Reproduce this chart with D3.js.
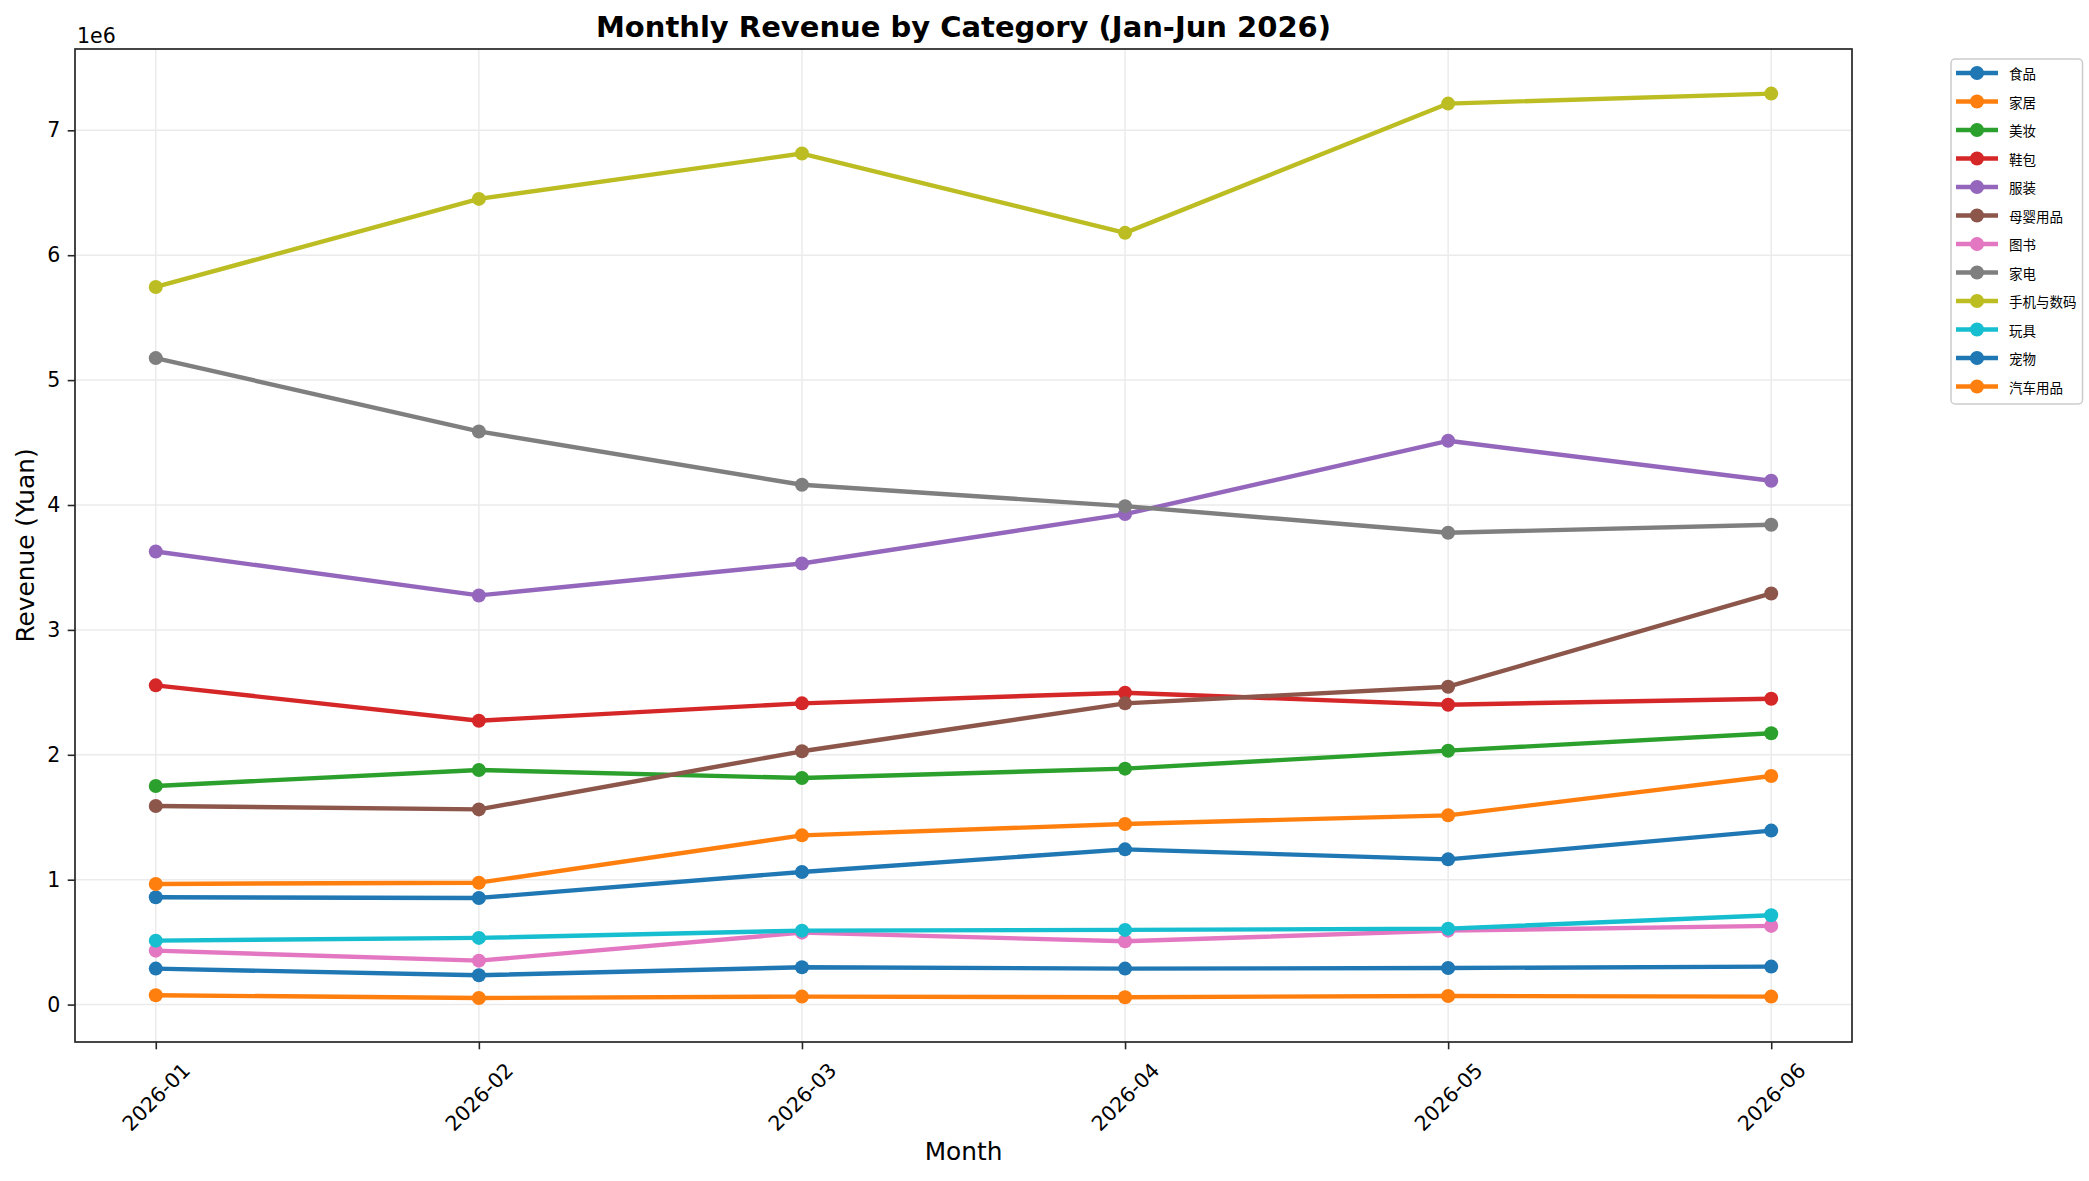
<!DOCTYPE html>
<html lang="en">
  <head>
    <meta charset="UTF-8" />
    <title>Monthly Revenue by Category</title>
    <style>
      body { margin: 0; background: #fff; }
      text { font-family: "DejaVu Sans", sans-serif; fill: #000; }
      .grid line { stroke: #ebebeb; stroke-width: 1.5px; }
      .axis path, .axis line { stroke: #262626; }
      .series { fill: none; stroke-width: 4.4px; stroke-linejoin: round; }
      .legend-label { font-family: "Noto Sans CJK SC", sans-serif; }
    </style>
  </head>
  <body>
    <script src="https://cdn.jsdelivr.net/npm/d3@7"></script>
    <script>
      // chart data
      var months = ["2026-01", "2026-02", "2026-03", "2026-04", "2026-05", "2026-06"];
      var categories = ["食品", "家居", "美妆", "鞋包", "服装", "母婴用品", "图书", "家电", "手机与数码", "玩具", "宠物", "汽车用品"];
      var colors = ["#1f77b4", "#ff7f0e", "#2ca02c", "#d62728", "#9467bd", "#8c564b",
                    "#e377c2", "#7f7f7f", "#bcbd22", "#17becf", "#1f77b4", "#ff7f0e"];
      var yTicks = [0, 1, 2, 3, 4, 5, 6, 7];

      var shipin   = [859000, 854000, 1062000, 1243000, 1163000, 1393000];
      var jiaju    = [966000, 976000, 1355000, 1446000, 1515000, 1830000];
      var meizhuang= [1750000, 1878000, 1814000, 1889000, 2033000, 2172000];
      var xiebao   = [2556000, 2273000, 2412000, 2497000, 2401000, 2449000];
      var fuzhuang = [3628000, 3276000, 3532000, 3927000, 4514000, 4194000];
      var muying   = [1590000, 1563000, 2028000, 2412000, 2545000, 3292000];
      var tushu    = [432000, 352000, 576000, 507000, 592000, 630000];
      var jiadian  = [5176000, 4589000, 4162000, 3991000, 3778000, 3842000];
      var shouji   = [5746000, 6451000, 6814000, 6179000, 7214000, 7294000];
      var wanju    = [512000, 534000, 592000, 598000, 608000, 715000];
      var chongwu  = [288000, 235000, 299000, 288000, 293000, 304000];
      var qiche    = [75000, 53000, 64000, 59000, 69000, 64000];

      var seriesValues = [shipin, jiaju, meizhuang, xiebao, fuzhuang, muying,
                          tushu, jiadian, shouji, wanju, chongwu, qiche];

      var w = 2089;
      var h = 1181;
      var margin = { top: 49, right: 237, bottom: 139, left: 75 };
      var iw = w - margin.left - margin.right;
      var ih = h - margin.top - margin.bottom;

      var svg = d3.select("body").append("svg")
                  .attr("width", w)
                  .attr("height", h);

      var xScale = d3.scalePoint()
                     .domain(months)
                     .range([0, iw])
                     .padding(0.25);

      var yScale = d3.scaleLinear()
                     .domain([-299500, 7651000])
                     .range([ih, 0]);

      var g = svg.append("g")
                 .attr("transform", "translate(" + margin.left + "," + margin.top + ")");

      // grid
      var grid = g.append("g").attr("class", "grid");
      grid.selectAll(".gx").data(months).enter().append("line")
          .attr("x1", function(d) { return xScale(d); })
          .attr("x2", function(d) { return xScale(d); })
          .attr("y1", 0).attr("y2", ih);
      grid.selectAll(".gy").data(yTicks).enter().append("line")
          .attr("x1", 0).attr("x2", iw)
          .attr("y1", function(d) { return yScale(d * 1e6); })
          .attr("y2", function(d) { return yScale(d * 1e6); });

      // lines
      var line = d3.line()
                   .x(function(d, i) { return xScale(months[i]); })
                   .y(function(d) { return yScale(d); });

      seriesValues.forEach(function(vals, k) {
        g.append("path")
         .datum(vals)
         .attr("class", "series")
         .attr("stroke", colors[k])
         .attr("d", line);
        g.selectAll(".pt" + k).data(vals).enter().append("circle")
         .attr("cx", function(d, i) { return xScale(months[i]); })
         .attr("cy", function(d) { return yScale(d); })
         .attr("r", 7)
         .attr("fill", colors[k]);
      });

      // axes
      var xAxis = d3.axisBottom(xScale).tickSize(7.3).tickPadding(7).tickSizeOuter(0);
      var yAxis = d3.axisLeft(yScale)
                    .tickValues(yTicks.map(function(d) { return d * 1e6; }))
                    .tickFormat(function(d) { return d / 1e6; })
                    .tickSize(7.3).tickPadding(7.5).tickSizeOuter(0);

      var gx = g.append("g")
                .attr("class", "axis")
                .attr("transform", "translate(0," + ih + ")")
                .call(xAxis);
      gx.select(".domain").remove();
      gx.selectAll("line").attr("stroke-width", 1.6);
      gx.selectAll("text")
        .attr("font-size", 20.5)
        .attr("font-family", "DejaVu Sans")
        .attr("text-anchor", "middle")
        .attr("dy", null)
        .attr("dominant-baseline", "central")
        .attr("y", 0)
        .attr("transform", "translate(0,55) rotate(-45)");

      var gy = g.append("g").attr("class", "axis").call(yAxis);
      gy.select(".domain").remove();
      gy.selectAll("line").attr("stroke-width", 1.6);
      gy.selectAll("text")
        .attr("font-size", 20.5)
        .attr("font-family", "DejaVu Sans");

      // frame
      g.append("rect")
       .attr("width", iw).attr("height", ih)
       .attr("fill", "none")
       .attr("stroke", "#262626")
       .attr("stroke-width", 1.7);

      // offset text, labels, title
      svg.append("text")
         .attr("x", margin.left + 2).attr("y", 43)
         .attr("font-size", 20.5)
         .text("1e6");

      svg.append("text")
         .attr("x", margin.left + iw / 2).attr("y", 37)
         .attr("text-anchor", "middle")
         .attr("font-size", 29)
         .attr("font-weight", "bold")
         .text("Monthly Revenue by Category (Jan-Jun 2026)");

      svg.append("text")
         .attr("x", margin.left + iw / 2).attr("y", 1160)
         .attr("text-anchor", "middle")
         .attr("font-size", 24.8)
         .text("Month");

      svg.append("text")
         .attr("transform", "translate(34," + (margin.top + ih / 2) + ") rotate(-90)")
         .attr("text-anchor", "middle")
         .attr("font-size", 24.8)
         .text("Revenue (Yuan)");

      // legend
      var lx = 1951, ly = 59, step = 28.5;
      var legend = svg.append("g");
      var frame = legend.append("rect")
                        .attr("x", lx).attr("y", ly)
                        .attr("rx", 4)
                        .attr("height", 345)
                        .attr("fill", "#fff")
                        .attr("fill-opacity", 0.8)
                        .attr("stroke", "#cccccc")
                        .attr("stroke-width", 1.5);

      var items = legend.selectAll(".item").data(categories).enter().append("g")
                        .attr("transform", function(d, i) { return "translate(0," + (ly + 14 + i * step) + ")"; });
      items.append("line")
           .attr("x1", lx + 5).attr("x2", lx + 47)
           .attr("stroke", function(d, i) { return colors[i]; })
           .attr("stroke-width", 4.4);
      items.append("circle")
           .attr("cx", lx + 26).attr("r", 7)
           .attr("fill", function(d, i) { return colors[i]; });
      var labels = items.append("text")
           .attr("class", "legend-label")
           .attr("x", lx + 58)
           .attr("dominant-baseline", "central")
           .attr("font-size", 13.5)
           .text(function(d) { return d; });

      var maxW = 0;
      labels.each(function() { maxW = Math.max(maxW, this.getComputedTextLength()); });
      frame.attr("width", 58 + maxW + 6);
    </script>
  </body>
</html>
